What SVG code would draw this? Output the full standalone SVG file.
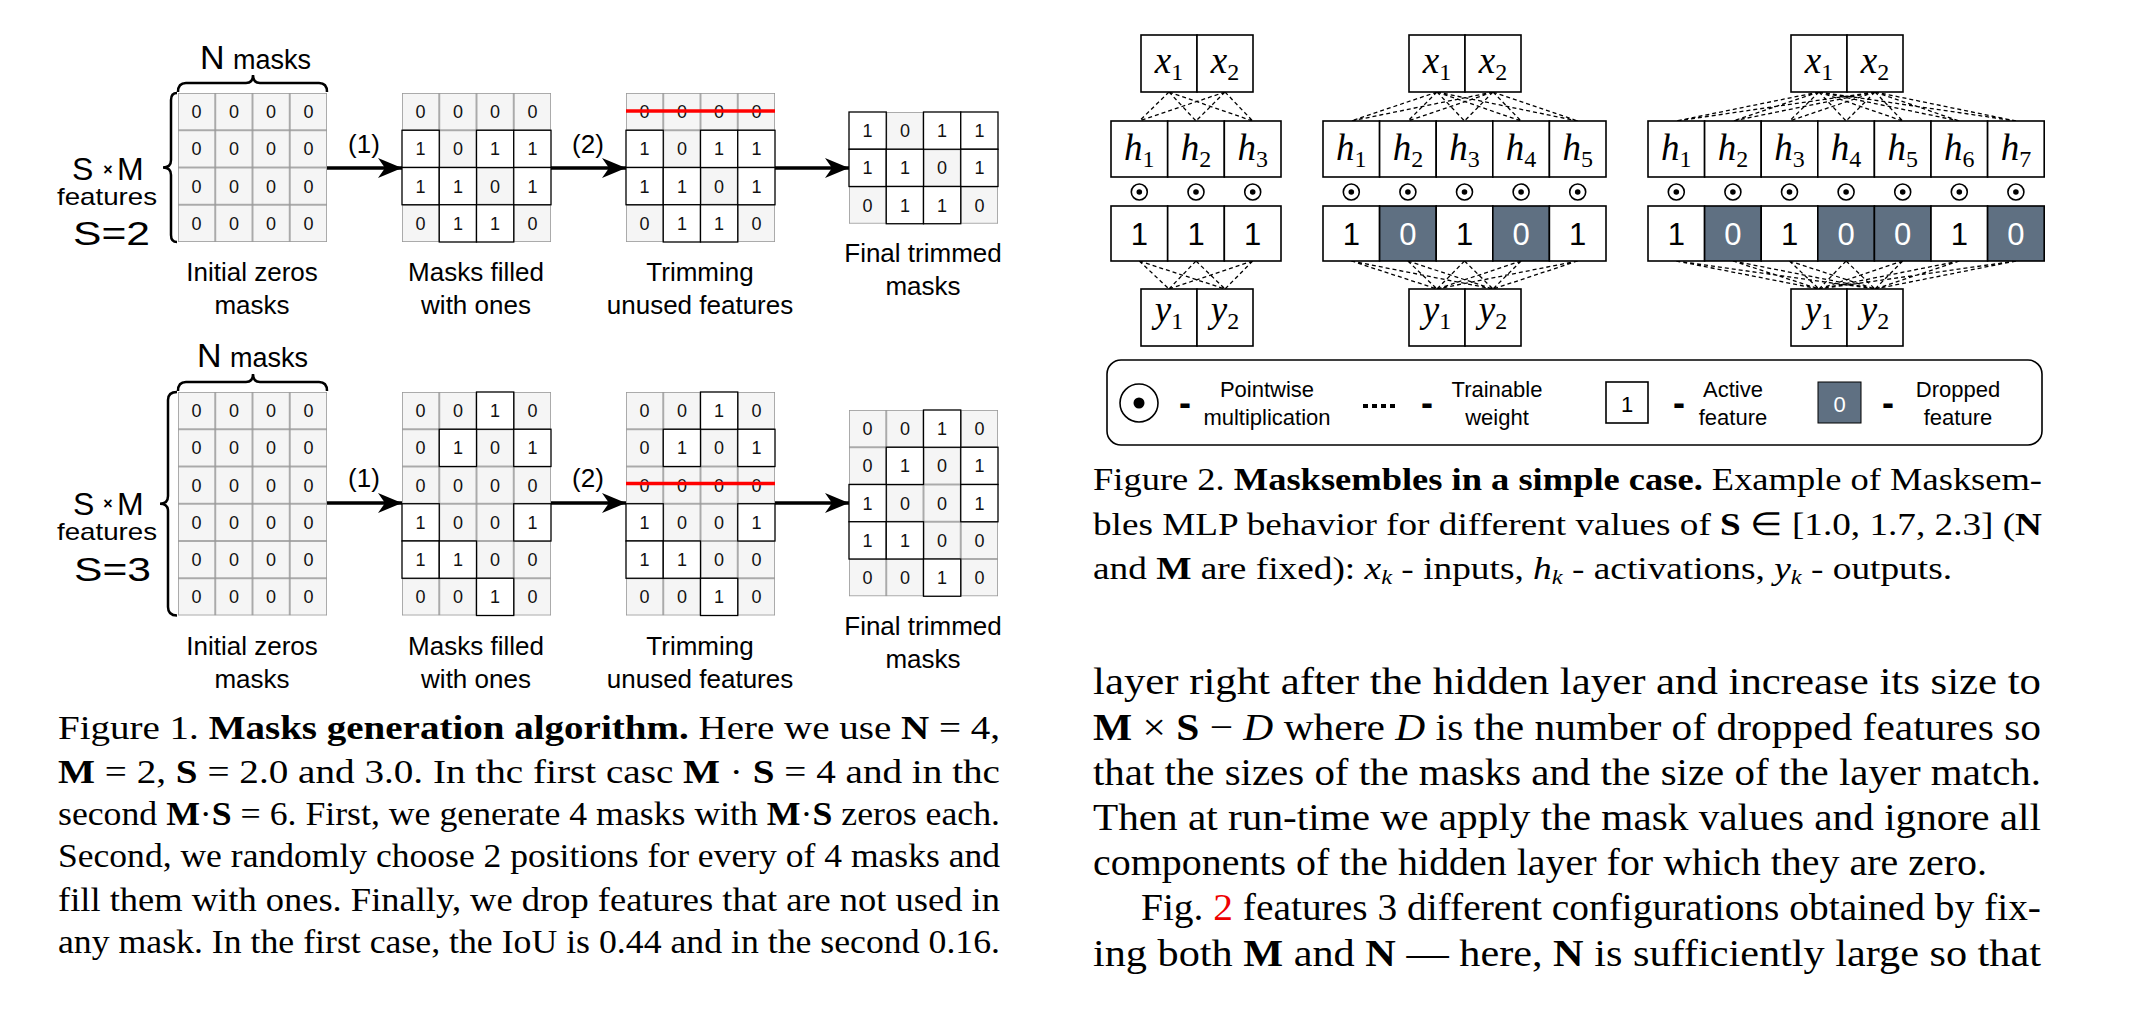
<svg xmlns="http://www.w3.org/2000/svg" width="2147" height="1009" viewBox="0 0 2147 1009">
<style>
.d{font-family:"Liberation Sans",Arial,sans-serif;font-size:18px;text-anchor:middle;fill:#111}
.w{fill:#fff;stroke:#000;stroke-width:1.3}
.lb{font-family:"Liberation Sans",Arial,sans-serif;font-size:26px;text-anchor:middle;fill:#000}
.big{font-family:"Liberation Sans",Arial,sans-serif;fill:#000}
.ar{stroke:#000;stroke-width:3.5;fill:none}
.br{stroke:#000;stroke-width:2.5;fill:none}
.red{stroke:#f00;stroke-width:3.5}
.cap{font-family:"Liberation Serif","Times New Roman",serif;fill:#000}
.bx{fill:#fff;stroke:#000;stroke-width:1.6}
.dk{fill:#5f7082;stroke:#000;stroke-width:1.6}
.m{font-family:"Liberation Serif","Times New Roman",serif;font-size:37px;text-anchor:middle;font-style:italic}
.sub{font-size:24px;font-style:normal}
.mv{font-family:"Liberation Sans",Arial,sans-serif;font-size:31px;text-anchor:middle}
.dash{stroke:#000;stroke-width:1.3;stroke-dasharray:4 3;fill:none}
.lg{font-family:"Liberation Sans",Arial,sans-serif;font-size:22px;text-anchor:middle}
.ms{font-family:"Liberation Sans",Arial,sans-serif;font-size:36px;font-weight:bold;text-anchor:middle}
</style>
<defs>
<pattern id="cell" width="37.25" height="37.25" patternUnits="userSpaceOnUse">
<rect width="37.25" height="37.25" fill="#f5f5f5" stroke="#999" stroke-width="1.6"/>
</pattern>
<marker id="ah" markerUnits="userSpaceOnUse" markerWidth="26" markerHeight="20" refX="24" refY="10" orient="auto">
<path d="M0,0 L24,10 L0,20 L7,10 Z" fill="#000"/>
</marker>
<g id="odot"><circle r="8" fill="#fff" stroke="#000" stroke-width="1.6"/><circle r="2.8" fill="#000"/></g>
</defs>

<!-- ===== Figure 1 top ===== -->
<g id="f1-top-labels">
<text class="big" x="200" y="69" font-size="34">N</text>
<text class="big" x="233" y="69" font-size="27">masks</text>
<path class="br" d="M178,92 Q178,83 186,83 L246,83 Q253,83 253,75 Q253,83 260,83 L319,83 Q327,83 327,92"/>
<path class="br" d="M177,93 Q171,93 171,100 L171,160 Q171,167.5 163,167.5 Q171,167.5 171,175 L171,235 Q171,242 177,242"/>
<text class="big" x="72" y="180" font-size="32">S</text>
<text class="big" x="108" y="175" font-size="16" font-weight="bold" text-anchor="middle">×</text>
<text class="big" x="117" y="180" font-size="32">M</text>
<text class="big" x="107" y="205" font-size="24" text-anchor="middle" textLength="100" lengthAdjust="spacingAndGlyphs">features</text>
<text class="big" x="73" y="245" font-size="33" textLength="77" lengthAdjust="spacingAndGlyphs">S=2</text>
</g>
<g id="t-grid1" transform="translate(178,93)">
<rect width="149" height="149" fill="url(#cell)"/>
<text class="d" x="18.6 55.9 93.1 130.4" y="25">0000</text>
<text class="d" x="18.6 55.9 93.1 130.4" y="62.25">0000</text>
<text class="d" x="18.6 55.9 93.1 130.4" y="99.5">0000</text>
<text class="d" x="18.6 55.9 93.1 130.4" y="136.75">0000</text>
</g>
<g id="t-grid2" transform="translate(402,93)">
<rect width="149" height="149" fill="url(#cell)"/>
<rect class="w" x="0" y="37.25" width="37.25" height="37.25"/><rect class="w" x="74.5" y="37.25" width="37.25" height="37.25"/><rect class="w" x="111.75" y="37.25" width="37.25" height="37.25"/>
<rect class="w" x="0" y="74.5" width="37.25" height="37.25"/><rect class="w" x="37.25" y="74.5" width="37.25" height="37.25"/><rect class="w" x="111.75" y="74.5" width="37.25" height="37.25"/>
<rect class="w" x="37.25" y="111.75" width="37.25" height="37.25"/><rect class="w" x="74.5" y="111.75" width="37.25" height="37.25"/>
<text class="d" x="18.6 55.9 93.1 130.4" y="25">0000</text>
<text class="d" x="18.6 55.9 93.1 130.4" y="62.25">1011</text>
<text class="d" x="18.6 55.9 93.1 130.4" y="99.5">1101</text>
<text class="d" x="18.6 55.9 93.1 130.4" y="136.75">0110</text>
</g>
<g id="t-grid3" transform="translate(626,93)">
<rect width="149" height="149" fill="url(#cell)"/>
<rect class="w" x="0" y="37.25" width="37.25" height="37.25"/><rect class="w" x="74.5" y="37.25" width="37.25" height="37.25"/><rect class="w" x="111.75" y="37.25" width="37.25" height="37.25"/>
<rect class="w" x="0" y="74.5" width="37.25" height="37.25"/><rect class="w" x="37.25" y="74.5" width="37.25" height="37.25"/><rect class="w" x="111.75" y="74.5" width="37.25" height="37.25"/>
<rect class="w" x="37.25" y="111.75" width="37.25" height="37.25"/><rect class="w" x="74.5" y="111.75" width="37.25" height="37.25"/>
<text class="d" x="18.6 55.9 93.1 130.4" y="25">0000</text>
<text class="d" x="18.6 55.9 93.1 130.4" y="62.25">1011</text>
<text class="d" x="18.6 55.9 93.1 130.4" y="99.5">1101</text>
<text class="d" x="18.6 55.9 93.1 130.4" y="136.75">0110</text>
<line class="red" x1="0" y1="18" x2="149" y2="18"/>
</g>
<g id="t-grid4" transform="translate(849,112)">
<rect width="149" height="111.75" fill="url(#cell)"/>
<rect class="w" x="0" y="0" width="37.25" height="37.25"/><rect class="w" x="74.5" y="0" width="37.25" height="37.25"/><rect class="w" x="111.75" y="0" width="37.25" height="37.25"/>
<rect class="w" x="0" y="37.25" width="37.25" height="37.25"/><rect class="w" x="37.25" y="37.25" width="37.25" height="37.25"/><rect class="w" x="111.75" y="37.25" width="37.25" height="37.25"/>
<rect class="w" x="37.25" y="74.5" width="37.25" height="37.25"/><rect class="w" x="74.5" y="74.5" width="37.25" height="37.25"/>
<text class="d" x="18.6 55.9 93.1 130.4" y="25">1011</text>
<text class="d" x="18.6 55.9 93.1 130.4" y="62.25">1101</text>
<text class="d" x="18.6 55.9 93.1 130.4" y="99.5">0110</text>
</g>
<g id="f1-top-steps">
<text class="lb" x="252" y="281">Initial zeros</text><text class="lb" x="252" y="314">masks</text>
<text class="lb" x="476" y="281">Masks filled</text><text class="lb" x="476" y="314">with ones</text>
<text class="lb" x="700" y="281">Trimming</text><text class="lb" x="700" y="314">unused features</text>
<text class="lb" x="923" y="262">Final trimmed</text><text class="lb" x="923" y="295">masks</text>
<text class="lb" x="364" y="153">(1)</text>
<text class="lb" x="588" y="153">(2)</text>
</g>

<!-- ===== Figure 1 bottom ===== -->
<g id="f1-bot-labels">
<text class="big" x="197" y="367" font-size="34">N</text>
<text class="big" x="230" y="367" font-size="27">masks</text>
<path class="br" d="M178,391 Q178,382 186,382 L246,382 Q253,382 253,374 Q253,382 260,382 L319,382 Q327,382 327,391"/>
<path class="br" d="M177,392 Q168,392 168,400 L168,496 Q168,503.75 160,503.75 Q168,503.75 168,511 L168,607 Q168,615.5 177,615.5"/>
<text class="big" x="73" y="515" font-size="32">S</text>
<text class="big" x="108" y="509" font-size="16" font-weight="bold" text-anchor="middle">×</text>
<text class="big" x="117" y="515" font-size="32">M</text>
<text class="big" x="107" y="540" font-size="24" text-anchor="middle" textLength="100" lengthAdjust="spacingAndGlyphs">features</text>
<text class="big" x="74" y="581" font-size="33" textLength="77" lengthAdjust="spacingAndGlyphs">S=3</text>
</g>
<g id="b-grid1" transform="translate(178,392)">
<rect width="149" height="223.5" fill="url(#cell)"/>
<text class="d" x="18.6 55.9 93.1 130.4" y="25">0000</text>
<text class="d" x="18.6 55.9 93.1 130.4" y="62.25">0000</text>
<text class="d" x="18.6 55.9 93.1 130.4" y="99.5">0000</text>
<text class="d" x="18.6 55.9 93.1 130.4" y="136.75">0000</text>
<text class="d" x="18.6 55.9 93.1 130.4" y="174">0000</text>
<text class="d" x="18.6 55.9 93.1 130.4" y="211.25">0000</text>
</g>
<g id="b-grid2" transform="translate(402,392)">
<rect width="149" height="223.5" fill="url(#cell)"/>
<rect class="w" x="74.5" y="0" width="37.25" height="37.25"/>
<rect class="w" x="37.25" y="37.25" width="37.25" height="37.25"/><rect class="w" x="111.75" y="37.25" width="37.25" height="37.25"/>
<rect class="w" x="0" y="111.75" width="37.25" height="37.25"/><rect class="w" x="111.75" y="111.75" width="37.25" height="37.25"/>
<rect class="w" x="0" y="149" width="37.25" height="37.25"/><rect class="w" x="37.25" y="149" width="37.25" height="37.25"/>
<rect class="w" x="74.5" y="186.25" width="37.25" height="37.25"/>
<text class="d" x="18.6 55.9 93.1 130.4" y="25">0010</text>
<text class="d" x="18.6 55.9 93.1 130.4" y="62.25">0101</text>
<text class="d" x="18.6 55.9 93.1 130.4" y="99.5">0000</text>
<text class="d" x="18.6 55.9 93.1 130.4" y="136.75">1001</text>
<text class="d" x="18.6 55.9 93.1 130.4" y="174">1100</text>
<text class="d" x="18.6 55.9 93.1 130.4" y="211.25">0010</text>
</g>
<g id="b-grid3" transform="translate(626,392)">
<rect width="149" height="223.5" fill="url(#cell)"/>
<rect class="w" x="74.5" y="0" width="37.25" height="37.25"/>
<rect class="w" x="37.25" y="37.25" width="37.25" height="37.25"/><rect class="w" x="111.75" y="37.25" width="37.25" height="37.25"/>
<rect class="w" x="0" y="111.75" width="37.25" height="37.25"/><rect class="w" x="111.75" y="111.75" width="37.25" height="37.25"/>
<rect class="w" x="0" y="149" width="37.25" height="37.25"/><rect class="w" x="37.25" y="149" width="37.25" height="37.25"/>
<rect class="w" x="74.5" y="186.25" width="37.25" height="37.25"/>
<text class="d" x="18.6 55.9 93.1 130.4" y="25">0010</text>
<text class="d" x="18.6 55.9 93.1 130.4" y="62.25">0101</text>
<text class="d" x="18.6 55.9 93.1 130.4" y="99.5">0000</text>
<text class="d" x="18.6 55.9 93.1 130.4" y="136.75">1001</text>
<text class="d" x="18.6 55.9 93.1 130.4" y="174">1100</text>
<text class="d" x="18.6 55.9 93.1 130.4" y="211.25">0010</text>
<line class="red" x1="0" y1="91.5" x2="149" y2="91.5"/>
</g>
<g id="b-grid4" transform="translate(849,410)">
<rect width="149" height="186.25" fill="url(#cell)"/>
<rect class="w" x="74.5" y="0" width="37.25" height="37.25"/>
<rect class="w" x="37.25" y="37.25" width="37.25" height="37.25"/><rect class="w" x="111.75" y="37.25" width="37.25" height="37.25"/>
<rect class="w" x="0" y="74.5" width="37.25" height="37.25"/><rect class="w" x="111.75" y="74.5" width="37.25" height="37.25"/>
<rect class="w" x="0" y="111.75" width="37.25" height="37.25"/><rect class="w" x="37.25" y="111.75" width="37.25" height="37.25"/>
<rect class="w" x="74.5" y="149" width="37.25" height="37.25"/>
<text class="d" x="18.6 55.9 93.1 130.4" y="25">0010</text>
<text class="d" x="18.6 55.9 93.1 130.4" y="62.25">0101</text>
<text class="d" x="18.6 55.9 93.1 130.4" y="99.5">1001</text>
<text class="d" x="18.6 55.9 93.1 130.4" y="136.75">1100</text>
<text class="d" x="18.6 55.9 93.1 130.4" y="174">0010</text>
</g>
<g id="f1-bot-steps">
<text class="lb" x="252" y="655">Initial zeros</text><text class="lb" x="252" y="688">masks</text>
<text class="lb" x="476" y="655">Masks filled</text><text class="lb" x="476" y="688">with ones</text>
<text class="lb" x="700" y="655">Trimming</text><text class="lb" x="700" y="688">unused features</text>
<text class="lb" x="923" y="635">Final trimmed</text><text class="lb" x="923" y="668">masks</text>
<text class="lb" x="364" y="487">(1)</text>
<text class="lb" x="588" y="487">(2)</text>
</g>

<g id="connectors">
<line class="ar" x1="327" y1="168" x2="402" y2="168" marker-end="url(#ah)"/>
<line class="ar" x1="551" y1="168" x2="626" y2="168" marker-end="url(#ah)"/>
<line class="ar" x1="775" y1="168" x2="849" y2="168" marker-end="url(#ah)"/>
<line class="ar" x1="327" y1="503" x2="402" y2="503" marker-end="url(#ah)"/>
<line class="ar" x1="551" y1="503" x2="626" y2="503" marker-end="url(#ah)"/>
<line class="ar" x1="775" y1="503" x2="849" y2="503" marker-end="url(#ah)"/>
<path class="dash" d="M1169 92L1139.3 121M1169 92L1196 121M1169 92L1252.7 121M1225 92L1139.3 121M1225 92L1196 121M1225 92L1252.7 121"/>
<path class="dash" d="M1139.3 261L1169 289M1196 261L1169 289M1252.7 261L1169 289M1139.3 261L1225 289M1196 261L1225 289M1252.7 261L1225 289"/>
<path class="dash" d="M1437 92L1351.3 121M1437 92L1407.9 121M1437 92L1464.5 121M1437 92L1521.1 121M1437 92L1577.7 121M1493 92L1351.3 121M1493 92L1407.9 121M1493 92L1464.5 121M1493 92L1521.1 121M1493 92L1577.7 121"/>
<path class="dash" d="M1351.3 261L1437 289M1407.9 261L1437 289M1464.5 261L1437 289M1521.1 261L1437 289M1577.7 261L1437 289M1351.3 261L1493 289M1407.9 261L1493 289M1464.5 261L1493 289M1521.1 261L1493 289M1577.7 261L1493 289"/>
<path class="dash" d="M1819 92L1676.3 121M1819 92L1732.9 121M1819 92L1789.5 121M1819 92L1846.1 121M1819 92L1902.7 121M1819 92L1959.3 121M1819 92L2015.9 121M1875 92L1676.3 121M1875 92L1732.9 121M1875 92L1789.5 121M1875 92L1846.1 121M1875 92L1902.7 121M1875 92L1959.3 121M1875 92L2015.9 121"/>
<path class="dash" d="M1676.3 261L1819 289M1732.9 261L1819 289M1789.5 261L1819 289M1846.1 261L1819 289M1902.7 261L1819 289M1959.3 261L1819 289M2015.9 261L1819 289M1676.3 261L1875 289M1732.9 261L1875 289M1789.5 261L1875 289M1846.1 261L1875 289M1902.7 261L1875 289M1959.3 261L1875 289M2015.9 261L1875 289"/>
</g>

<!-- ===== Figure 2 nets ===== -->
<g id="net1">
<rect class="bx" x="1141" y="35" width="56" height="57"/><rect class="bx" x="1197" y="35" width="56" height="57"/>
<text class="m" x="1169" y="73">x<tspan class="sub" dy="7">1</tspan></text>
<text class="m" x="1225" y="73">x<tspan class="sub" dy="7">2</tspan></text>
<rect class="bx" x="1111" y="121" width="56.67" height="56"/><rect class="bx" x="1167.67" y="121" width="56.67" height="56"/><rect class="bx" x="1224.33" y="121" width="56.67" height="56"/>
<text class="m" x="1139.3" y="160">h<tspan class="sub" dy="7">1</tspan></text>
<text class="m" x="1196" y="160">h<tspan class="sub" dy="7">2</tspan></text>
<text class="m" x="1252.7" y="160">h<tspan class="sub" dy="7">3</tspan></text>
<use href="#odot" x="1139.3" y="192"/><use href="#odot" x="1196" y="192"/><use href="#odot" x="1252.7" y="192"/>
<rect class="bx" x="1111" y="206" width="56.67" height="55"/><rect class="bx" x="1167.67" y="206" width="56.67" height="55"/><rect class="bx" x="1224.33" y="206" width="56.67" height="55"/>
<text class="mv" x="1139.3" y="245">1</text><text class="mv" x="1196" y="245">1</text><text class="mv" x="1252.7" y="245">1</text>
<rect class="bx" x="1141" y="289" width="56" height="57"/><rect class="bx" x="1197" y="289" width="56" height="57"/>
<text class="m" x="1169" y="322">y<tspan class="sub" dy="7">1</tspan></text>
<text class="m" x="1225" y="322">y<tspan class="sub" dy="7">2</tspan></text>
</g>
<g id="net2">
<rect class="bx" x="1409" y="35" width="56" height="57"/><rect class="bx" x="1465" y="35" width="56" height="57"/>
<text class="m" x="1437" y="73">x<tspan class="sub" dy="7">1</tspan></text>
<text class="m" x="1493" y="73">x<tspan class="sub" dy="7">2</tspan></text>
<rect class="bx" x="1323" y="121" width="56.6" height="56"/><rect class="bx" x="1379.6" y="121" width="56.6" height="56"/><rect class="bx" x="1436.2" y="121" width="56.6" height="56"/><rect class="bx" x="1492.8" y="121" width="56.6" height="56"/><rect class="bx" x="1549.4" y="121" width="56.6" height="56"/>
<text class="m" x="1351.3" y="160">h<tspan class="sub" dy="7">1</tspan></text>
<text class="m" x="1407.9" y="160">h<tspan class="sub" dy="7">2</tspan></text>
<text class="m" x="1464.5" y="160">h<tspan class="sub" dy="7">3</tspan></text>
<text class="m" x="1521.1" y="160">h<tspan class="sub" dy="7">4</tspan></text>
<text class="m" x="1577.7" y="160">h<tspan class="sub" dy="7">5</tspan></text>
<use href="#odot" x="1351.3" y="192"/><use href="#odot" x="1407.9" y="192"/><use href="#odot" x="1464.5" y="192"/><use href="#odot" x="1521.1" y="192"/><use href="#odot" x="1577.7" y="192"/>
<rect class="bx" x="1323" y="206" width="56.6" height="55"/><rect class="dk" x="1379.6" y="206" width="56.6" height="55"/><rect class="bx" x="1436.2" y="206" width="56.6" height="55"/><rect class="dk" x="1492.8" y="206" width="56.6" height="55"/><rect class="bx" x="1549.4" y="206" width="56.6" height="55"/>
<text class="mv" x="1351.3" y="245">1</text><text class="mv" x="1407.9" y="245" fill="#fff">0</text><text class="mv" x="1464.5" y="245">1</text><text class="mv" x="1521.1" y="245" fill="#fff">0</text><text class="mv" x="1577.7" y="245">1</text>
<rect class="bx" x="1409" y="289" width="56" height="57"/><rect class="bx" x="1465" y="289" width="56" height="57"/>
<text class="m" x="1437" y="322">y<tspan class="sub" dy="7">1</tspan></text>
<text class="m" x="1493" y="322">y<tspan class="sub" dy="7">2</tspan></text>
</g>
<g id="net3">
<rect class="bx" x="1791" y="35" width="56" height="57"/><rect class="bx" x="1847" y="35" width="56" height="57"/>
<text class="m" x="1819" y="73">x<tspan class="sub" dy="7">1</tspan></text>
<text class="m" x="1875" y="73">x<tspan class="sub" dy="7">2</tspan></text>
<rect class="bx" x="1648" y="121" width="56.6" height="56"/><rect class="bx" x="1704.6" y="121" width="56.6" height="56"/><rect class="bx" x="1761.2" y="121" width="56.6" height="56"/><rect class="bx" x="1817.8" y="121" width="56.6" height="56"/><rect class="bx" x="1874.4" y="121" width="56.6" height="56"/><rect class="bx" x="1931" y="121" width="56.6" height="56"/><rect class="bx" x="1987.6" y="121" width="56.6" height="56"/>
<text class="m" x="1676.3" y="160">h<tspan class="sub" dy="7">1</tspan></text>
<text class="m" x="1732.9" y="160">h<tspan class="sub" dy="7">2</tspan></text>
<text class="m" x="1789.5" y="160">h<tspan class="sub" dy="7">3</tspan></text>
<text class="m" x="1846.1" y="160">h<tspan class="sub" dy="7">4</tspan></text>
<text class="m" x="1902.7" y="160">h<tspan class="sub" dy="7">5</tspan></text>
<text class="m" x="1959.3" y="160">h<tspan class="sub" dy="7">6</tspan></text>
<text class="m" x="2015.9" y="160">h<tspan class="sub" dy="7">7</tspan></text>
<use href="#odot" x="1676.3" y="192"/><use href="#odot" x="1732.9" y="192"/><use href="#odot" x="1789.5" y="192"/><use href="#odot" x="1846.1" y="192"/><use href="#odot" x="1902.7" y="192"/><use href="#odot" x="1959.3" y="192"/><use href="#odot" x="2015.9" y="192"/>
<rect class="bx" x="1648" y="206" width="56.6" height="55"/><rect class="dk" x="1704.6" y="206" width="56.6" height="55"/><rect class="bx" x="1761.2" y="206" width="56.6" height="55"/><rect class="dk" x="1817.8" y="206" width="56.6" height="55"/><rect class="dk" x="1874.4" y="206" width="56.6" height="55"/><rect class="bx" x="1931" y="206" width="56.6" height="55"/><rect class="dk" x="1987.6" y="206" width="56.6" height="55"/>
<text class="mv" x="1676.3" y="245">1</text><text class="mv" x="1732.9" y="245" fill="#fff">0</text><text class="mv" x="1789.5" y="245">1</text><text class="mv" x="1846.1" y="245" fill="#fff">0</text><text class="mv" x="1902.7" y="245" fill="#fff">0</text><text class="mv" x="1959.3" y="245">1</text><text class="mv" x="2015.9" y="245" fill="#fff">0</text>
<rect class="bx" x="1791" y="289" width="56" height="57"/><rect class="bx" x="1847" y="289" width="56" height="57"/>
<text class="m" x="1819" y="322">y<tspan class="sub" dy="7">1</tspan></text>
<text class="m" x="1875" y="322">y<tspan class="sub" dy="7">2</tspan></text>
</g>

<g id="legend">
<rect x="1107" y="360" width="935" height="85" rx="14" fill="#fff" stroke="#000" stroke-width="1.6"/>
<circle cx="1139" cy="403" r="19" fill="#fff" stroke="#000" stroke-width="1.6"/><circle cx="1139" cy="403" r="5.5" fill="#000"/>
<text class="ms" x="1185" y="415">-</text>
<text class="lg" x="1267" y="397">Pointwise</text><text class="lg" x="1267" y="425">multiplication</text>
<line x1="1363" y1="406" x2="1397" y2="406" stroke="#000" stroke-width="4" stroke-dasharray="5 4"/>
<text class="ms" x="1427" y="415">-</text>
<text class="lg" x="1497" y="397">Trainable</text><text class="lg" x="1497" y="425">weight</text>
<rect x="1606" y="382" width="42" height="41" fill="#fff" stroke="#000" stroke-width="1.6"/>
<text class="lg" x="1627" y="412" font-size="26">1</text>
<text class="ms" x="1679" y="415">-</text>
<text class="lg" x="1733" y="397">Active</text><text class="lg" x="1733" y="425">feature</text>
<rect x="1818" y="382" width="43" height="41" fill="#5f7082" stroke="#000" stroke-width="1"/>
<text class="lg" x="1839.5" y="412" font-size="26" fill="#fff">0</text>
<text class="ms" x="1888" y="415">-</text>
<text class="lg" x="1958" y="397">Dropped</text><text class="lg" x="1958" y="425">feature</text>
</g>

<!-- ===== Captions ===== -->
<g id="fig1-caption" class="cap" font-size="33">
<text x="58" y="739" textLength="942" lengthAdjust="spacingAndGlyphs">Figure 1. <tspan font-weight="bold">Masks generation algorithm.</tspan>  Here we use <tspan font-weight="bold">N</tspan> = 4,</text>
<text x="58" y="783" textLength="942" lengthAdjust="spacingAndGlyphs"><tspan font-weight="bold">M</tspan> = 2, <tspan font-weight="bold">S</tspan> = 2.0 and 3.0.  In thc first casc <tspan font-weight="bold">M</tspan> · <tspan font-weight="bold">S</tspan> = 4 and in thc</text>
<text x="58" y="825" textLength="942" lengthAdjust="spacingAndGlyphs">second <tspan font-weight="bold">M</tspan>·<tspan font-weight="bold">S</tspan> = 6. First, we generate 4 masks with <tspan font-weight="bold">M</tspan>·<tspan font-weight="bold">S</tspan> zeros each.</text>
<text x="58" y="867" textLength="942" lengthAdjust="spacingAndGlyphs">Second, we randomly choose 2 positions for every of 4 masks and</text>
<text x="58" y="911" textLength="942" lengthAdjust="spacingAndGlyphs">fill them with ones.  Finally, we drop features that are not used in</text>
<text x="58" y="953" textLength="942" lengthAdjust="spacingAndGlyphs">any mask. In the first case, the IoU is 0.44 and in the second 0.16.</text>
</g>
<g id="fig2-caption" class="cap" font-size="32">
<text x="1093" y="490" textLength="949" lengthAdjust="spacingAndGlyphs">Figure 2. <tspan font-weight="bold">Masksembles in a simple case.</tspan> Example of Masksem-</text>
<text x="1093" y="535" textLength="949" lengthAdjust="spacingAndGlyphs">bles MLP behavior for different values of <tspan font-weight="bold">S</tspan> ∈ [1.0, 1.7, 2.3] (<tspan font-weight="bold">N</tspan></text>
<text x="1093" y="579" textLength="859" lengthAdjust="spacingAndGlyphs">and <tspan font-weight="bold">M</tspan> are fixed): <tspan font-style="italic">x</tspan><tspan font-style="italic" font-size="21" dy="5">k</tspan><tspan dy="-5"> - inputs, </tspan><tspan font-style="italic">h</tspan><tspan font-style="italic" font-size="21" dy="5">k</tspan><tspan dy="-5"> - activations, </tspan><tspan font-style="italic">y</tspan><tspan font-style="italic" font-size="21" dy="5">k</tspan><tspan dy="-5"> - outputs.</tspan></text>
</g>
<g id="body-text" class="cap" font-size="38">
<text x="1093" y="694" textLength="948" lengthAdjust="spacingAndGlyphs">layer right after the hidden layer and increase its size to</text>
<text x="1093" y="740" textLength="948" lengthAdjust="spacingAndGlyphs"><tspan font-weight="bold">M</tspan> × <tspan font-weight="bold">S</tspan> − <tspan font-style="italic">D</tspan> where <tspan font-style="italic">D</tspan> is the number of dropped features so</text>
<text x="1093" y="785" textLength="948" lengthAdjust="spacingAndGlyphs">that the sizes of the masks and the size of the layer match.</text>
<text x="1093" y="830" textLength="948" lengthAdjust="spacingAndGlyphs">Then at run-time we apply the mask values and ignore all</text>
<text x="1093" y="875" textLength="894" lengthAdjust="spacingAndGlyphs">components of the hidden layer for which they are zero.</text>
<text x="1141" y="920" textLength="900" lengthAdjust="spacingAndGlyphs">Fig. <tspan fill="#e00">2</tspan> features 3 different configurations obtained by fix-</text>
<text x="1093" y="966" textLength="948" lengthAdjust="spacingAndGlyphs">ing both <tspan font-weight="bold">M</tspan> and <tspan font-weight="bold">N</tspan> — here, <tspan font-weight="bold">N</tspan> is sufficiently large so that</text>
</g>
</svg>
